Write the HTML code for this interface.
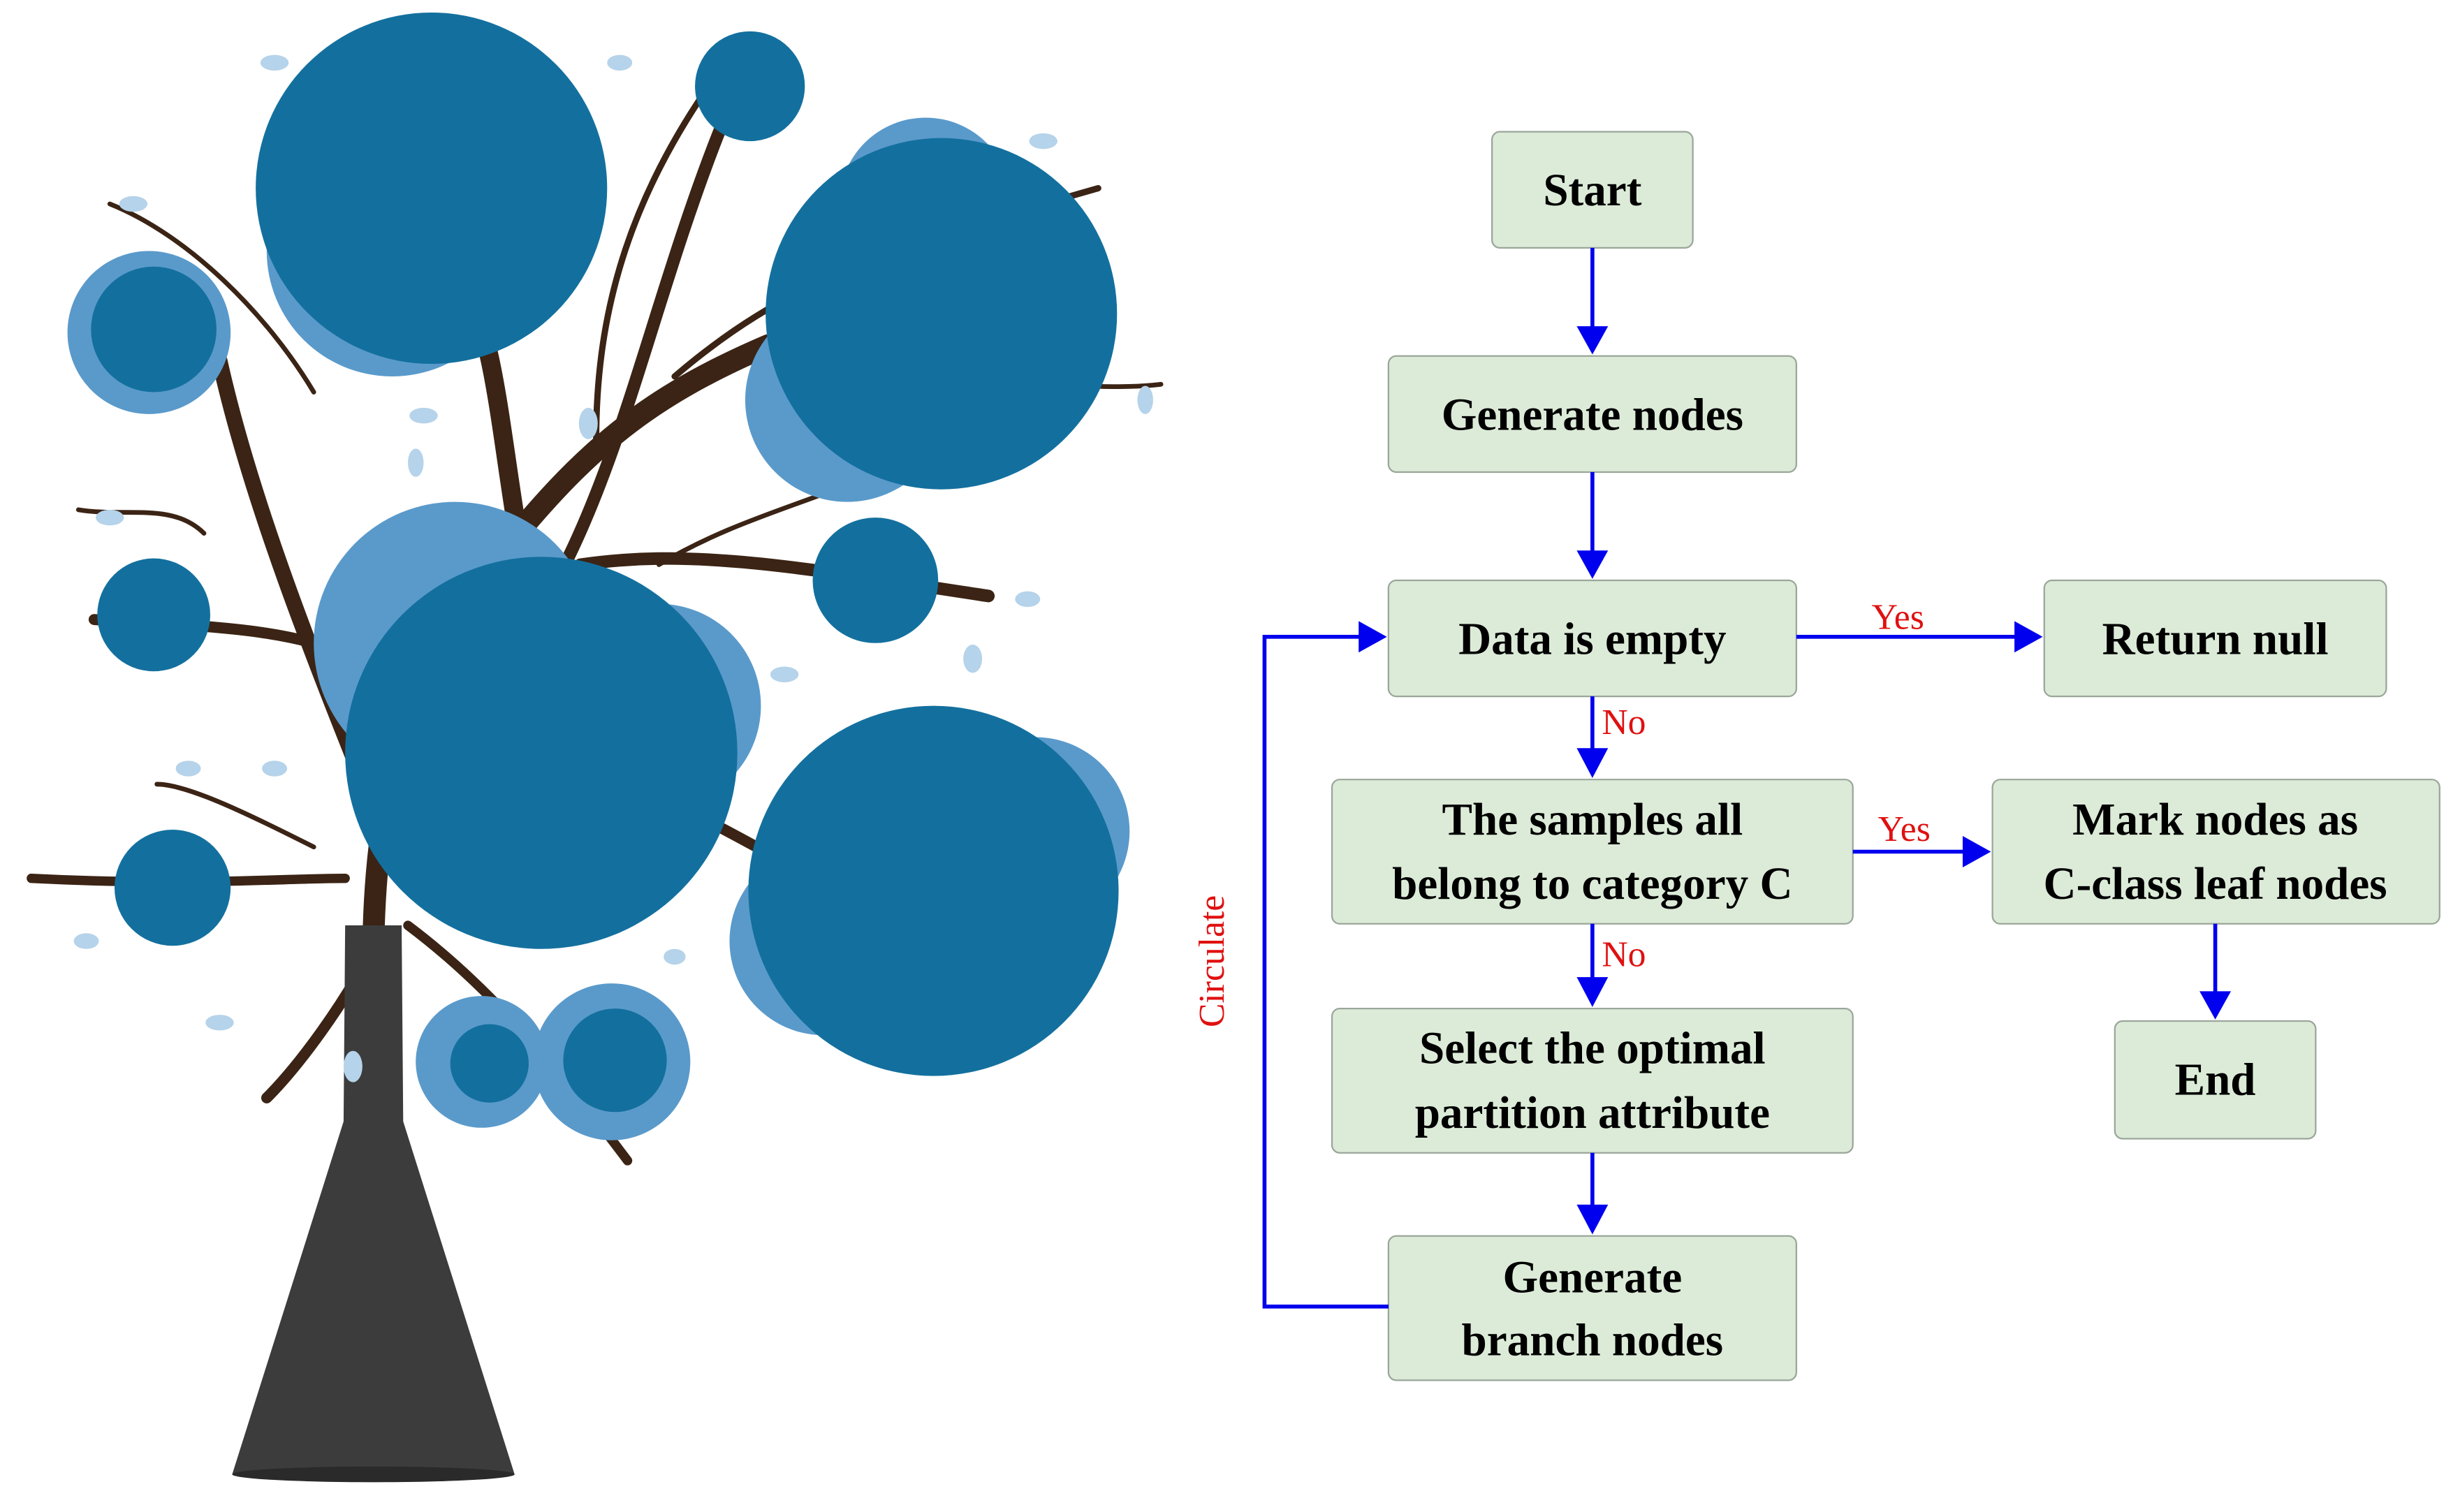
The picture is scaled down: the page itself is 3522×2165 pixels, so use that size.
<!DOCTYPE html>
<html><head><style>html,body{margin:0;padding:0;background:#fff}svg{display:block}</style></head>
<body>
<svg width="3522" height="2165" viewBox="0 0 1568 964" preserveAspectRatio="none" xmlns="http://www.w3.org/2000/svg">
<rect width="1568" height="964" fill="#fff"/>
<!-- tree -->
<g stroke="#3b2415" fill="none" stroke-linecap="round">
<path d="M238 600 C240 500 260 420 330 340 C380 280 420 250 490 220" stroke-width="14"/>
<path d="M330 340 C320 280 315 220 300 190" stroke-width="12"/>
<path d="M240 520 C200 420 160 320 140 230" stroke-width="10"/>
<path d="M360 360 C400 280 420 180 460 80" stroke-width="8"/>
<path d="M370 360 C440 350 500 360 630 380" stroke-width="8"/>
<path d="M230 420 C180 400 140 400 60 395" stroke-width="7"/>
<path d="M220 560 C180 560 120 565 20 560" stroke-width="6"/>
<path d="M240 600 C220 640 190 680 170 700" stroke-width="7"/>
<path d="M260 590 C300 620 340 660 400 740" stroke-width="6"/>
<path d="M400 500 C450 520 480 540 520 560" stroke-width="7"/>
<path d="M430 240 C500 180 560 160 700 120" stroke-width="4"/>
<path d="M380 280 C380 200 400 120 470 30" stroke-width="4"/>
<path d="M200 250 C170 200 120 150 70 130" stroke-width="3"/>
<path d="M600 250 C650 240 700 250 740 245" stroke-width="3"/>
<path d="M420 360 C470 330 520 320 560 300" stroke-width="3"/>
<path d="M130 340 C110 320 80 330 50 325" stroke-width="3"/>
<path d="M100 500 C120 500 160 520 200 540" stroke-width="3"/>
</g>
<path d="M220 590 L256 590 L257 715 L328 940 L148 940 L219 715 Z" fill="#3c3c3c"/>
<ellipse cx="238" cy="940" rx="90" ry="5" fill="#2a2a2a"/>
<g fill="#5a9acb">
<circle cx="250" cy="160" r="80"/><circle cx="540" cy="255" r="65"/><circle cx="590" cy="130" r="55"/>
<circle cx="95" cy="212" r="52"/><circle cx="290" cy="410" r="90"/><circle cx="420" cy="450" r="65"/>
<circle cx="525" cy="600" r="60"/><circle cx="660" cy="530" r="60"/><circle cx="307" cy="677" r="42"/><circle cx="390" cy="677" r="50"/>
<circle cx="260" cy="40" r="25"/>
</g>
<g fill="#13709e">
<circle cx="275" cy="120" r="112"/><circle cx="478" cy="55" r="35"/><circle cx="600" cy="200" r="112"/>
<circle cx="98" cy="210" r="40"/><circle cx="98" cy="392" r="36"/><circle cx="345" cy="480" r="125"/>
<circle cx="558" cy="370" r="40"/><circle cx="595" cy="568" r="118"/><circle cx="110" cy="566" r="37"/>
<circle cx="312" cy="678" r="25"/><circle cx="392" cy="676" r="33"/>
</g>
<g fill="#b5d3ea">
<ellipse cx="85" cy="130" rx="9" ry="5"/><ellipse cx="175" cy="40" rx="9" ry="5"/><ellipse cx="395" cy="40" rx="8" ry="5"/>
<ellipse cx="665" cy="90" rx="9" ry="5"/><ellipse cx="730" cy="255" rx="5" ry="9"/><ellipse cx="655" cy="382" rx="8" ry="5"/>
<ellipse cx="620" cy="420" rx="6" ry="9"/><ellipse cx="70" cy="330" rx="9" ry="5"/><ellipse cx="55" cy="600" rx="8" ry="5"/>
<ellipse cx="140" cy="652" rx="9" ry="5"/><ellipse cx="225" cy="680" rx="6" ry="10"/><ellipse cx="430" cy="610" rx="7" ry="5"/>
<ellipse cx="375" cy="270" rx="6" ry="10"/><ellipse cx="270" cy="265" rx="9" ry="5"/><ellipse cx="500" cy="430" rx="9" ry="5"/>
<ellipse cx="120" cy="490" rx="8" ry="5"/><ellipse cx="175" cy="490" rx="8" ry="5"/><ellipse cx="265" cy="295" rx="5" ry="9"/>
</g>
<!-- flowchart -->
<g fill="#dcebd8" stroke="#9aa69a" stroke-width="1">
<rect x="951" y="84" width="128" height="74" rx="5"/>
<rect x="885" y="227" width="260" height="74" rx="5"/>
<rect x="885" y="370" width="260" height="74" rx="5"/>
<rect x="1303" y="370" width="218" height="74" rx="5"/>
<rect x="849" y="497" width="332" height="92" rx="5"/>
<rect x="1270" y="497" width="285" height="92" rx="5"/>
<rect x="849" y="643" width="332" height="92" rx="5"/>
<rect x="1348" y="651" width="128" height="75" rx="5"/>
<rect x="885" y="788" width="260" height="92" rx="5"/>
</g>
<g font-family="Liberation Serif, serif" font-weight="bold" font-size="29" fill="#000" text-anchor="middle">
<text x="1015" y="131">Start</text>
<text x="1015" y="274">Generate nodes</text>
<text x="1015" y="417">Data is empty</text>
<text x="1412" y="417">Return null</text>
<text x="1015" y="532">The samples all</text>
<text x="1015" y="573">belong to category C</text>
<text x="1412" y="532">Mark nodes as</text>
<text x="1412" y="573">C-class leaf nodes</text>
<text x="1015" y="678">Select the optimal</text>
<text x="1015" y="719">partition attribute</text>
<text x="1412" y="698">End</text>
<text x="1015" y="824">Generate</text>
<text x="1015" y="864">branch nodes</text>
</g>
<g stroke="#0000ee" stroke-width="2.5" fill="none">
<path d="M1015 158V210"/><path d="M1015 301V353"/><path d="M1015 444V480"/><path d="M1015 589V626"/><path d="M1015 735V771"/>
<path d="M1145 406H1286"/><path d="M1181 543H1253"/><path d="M1412 589V634"/>
<path d="M885 833H806V406H868"/>
</g>
<g fill="#0000ee">
<path d="M1005 208L1025 208L1015 226Z"/><path d="M1005 351L1025 351L1015 369Z"/><path d="M1005 477L1025 477L1015 496Z"/>
<path d="M1005 623L1025 623L1015 642Z"/><path d="M1005 768L1025 768L1015 787Z"/><path d="M1402 632L1422 632L1412 650Z"/>
<path d="M1284 396L1284 416L1302 406Z"/><path d="M1251 533L1251 553L1269 543Z"/><path d="M866 396L866 416L884 406Z"/>
</g>
<g font-family="Liberation Serif, serif" font-size="23" fill="#e01010">
<text x="1193" y="401">Yes</text>
<text x="1197" y="536">Yes</text>
<text x="1021" y="468">No</text>
<text x="1021" y="616">No</text>
<text transform="translate(780 655) rotate(-90)">Circulate</text>
</g>
</svg>
</body></html>
